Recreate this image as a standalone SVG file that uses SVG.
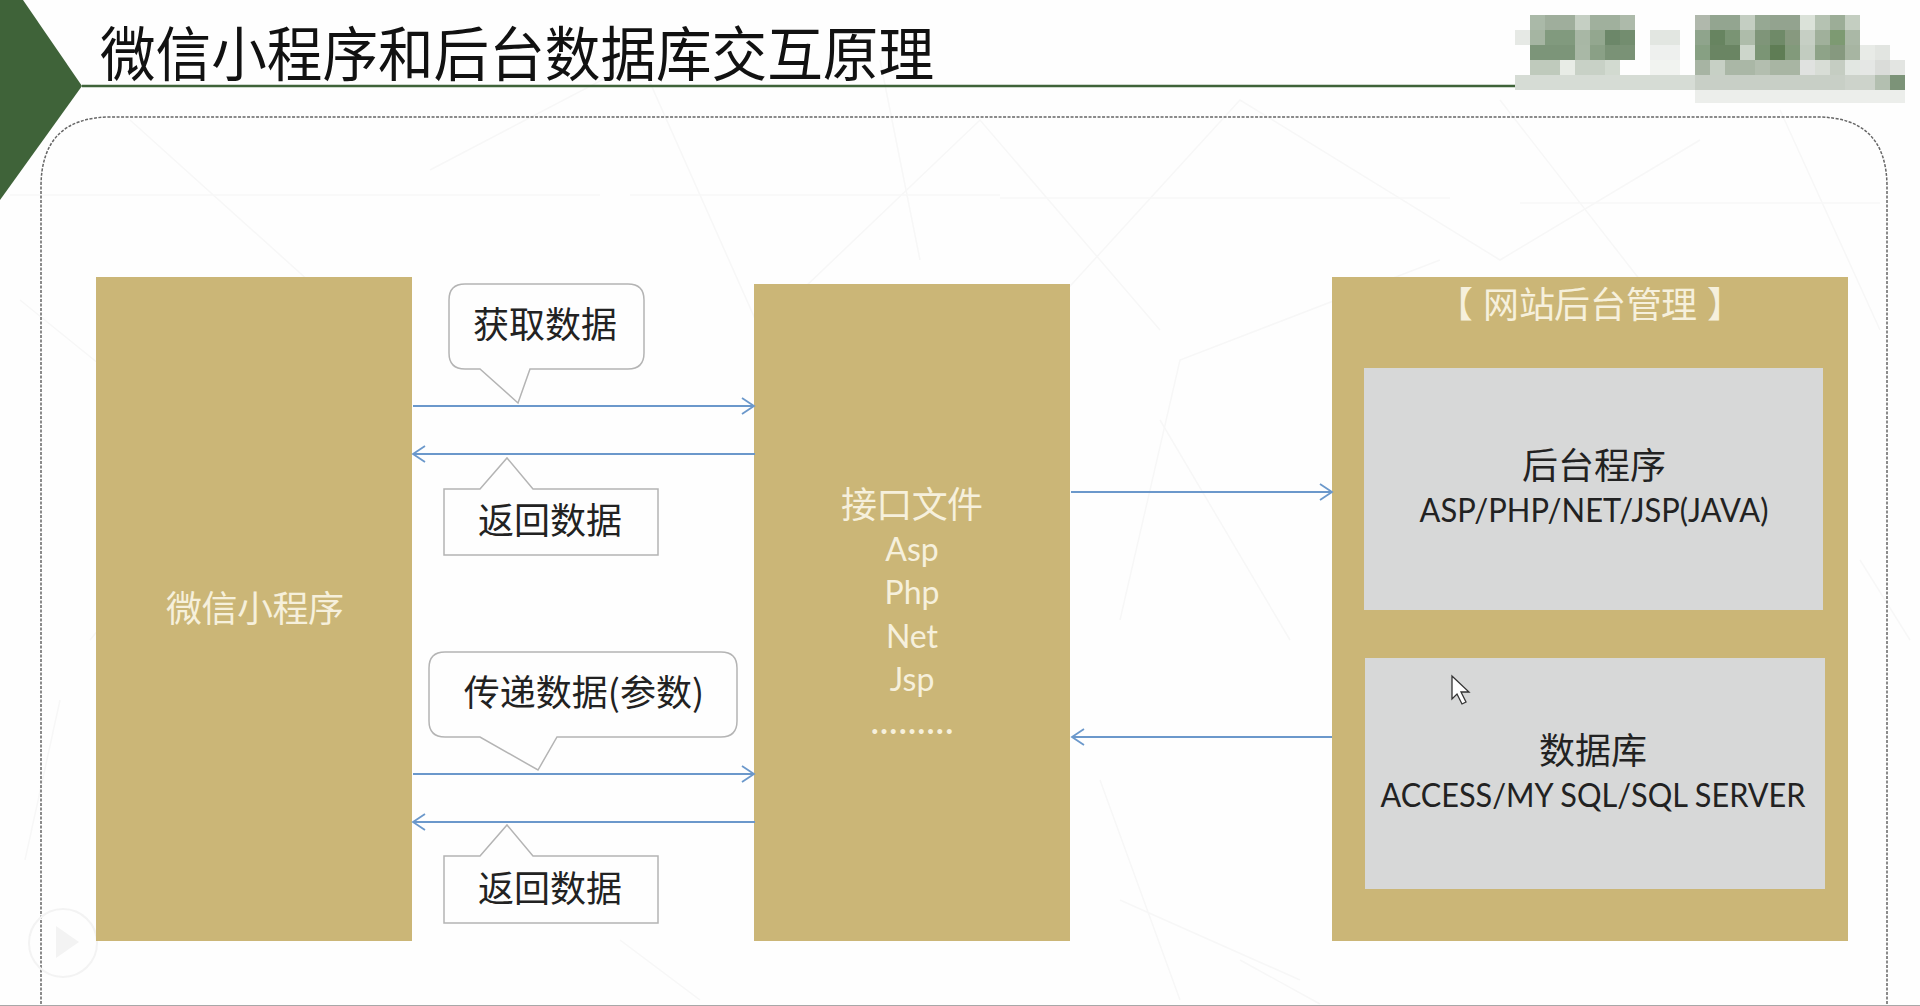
<svg xmlns="http://www.w3.org/2000/svg" width="1920" height="1006" viewBox="0 0 1920 1006">
<style>
text{font-family:"Noto Sans CJK SC","Noto Sans",sans-serif;text-anchor:middle;dominant-baseline:auto}
.tan{fill:#cbb677}
.gray{fill:#d7d8d8}
.w{fill:#f6f0dc;font-size:36px}
.k{fill:#222;font-size:36px}
.lat{font-family:Lato,"Noto Sans",sans-serif;font-size:32px}
.call{fill:#fefefe;stroke:#b4b4b4;stroke-width:1.5}
.conn{fill:none;stroke:#6b98cb;stroke-width:1.8}
.tex{fill:none;stroke:#f7f7f7;stroke-width:1.5}
</style>
<defs>
<marker id="arr" markerUnits="userSpaceOnUse" markerWidth="16" markerHeight="20" refX="13.500" refY="10" orient="auto-start-reverse">
<path d="M1.500 2L13.500 10L1.500 18" fill="none" stroke="#6b98cb" stroke-width="1.800"/>
</marker>
</defs>
<rect width="1920" height="1006" fill="#fefefe"/>
<g id="texture" class="tex">
<path d="M130 120L330 300L300 560M430 170L640 60L760 330L980 120L1160 330M1030 330L1240 100L1500 260L1700 140"/>
<path d="M10 195H600M630 195H1000M1000 198H1450M1520 203H1880M20 300L230 470L90 640"/>
<path d="M1440 260L1180 360L1120 620M1640 280L1500 100M1780 110L1880 330M880 60L920 260M620 940L700 1000M1100 780L1180 1000M1240 960L1320 1004"/>
<path d="M1860 560L1910 640M60 700L25 860M1160 420L1290 640M1120 900L1300 980"/>
</g>
<g id="header">
<polygon points="0,0 23,0 82,86 0,200" fill="#3f6339"/>
<line x1="82" y1="86" x2="1520" y2="86" stroke="#3f6339" stroke-width="2.500"/>
<text x="517" y="76" font-size="59" fill="#111" textLength="834" lengthAdjust="spacingAndGlyphs">微信小程序和后台数据库交互原理</text>
</g>
<g id="mosaic" shape-rendering="crispEdges">
<rect x="1530" y="15" width="15" height="15" fill="#aab9a8"/><rect x="1545" y="15" width="30" height="15" fill="#9fae9c"/><rect x="1575" y="15" width="15" height="15" fill="#c5cfc3"/><rect x="1590" y="15" width="30" height="15" fill="#a0b09d"/><rect x="1620" y="15" width="15" height="15" fill="#adbaaa"/>
<rect x="1695" y="15" width="15" height="15" fill="#b0b8ac"/><rect x="1710" y="15" width="30" height="15" fill="#93a590"/><rect x="1740" y="15" width="15" height="15" fill="#c4cec2"/><rect x="1755" y="15" width="15" height="15" fill="#96a893"/><rect x="1770" y="15" width="30" height="15" fill="#93a38f"/><rect x="1800" y="15" width="15" height="15" fill="#dbe2d9"/><rect x="1815" y="15" width="15" height="15" fill="#b5c2b2"/><rect x="1830" y="15" width="15" height="15" fill="#9cad97"/><rect x="1845" y="15" width="15" height="15" fill="#c4cec1"/>
<rect x="1515" y="30" width="15" height="15" fill="#e6e9e5"/><rect x="1530" y="30" width="15" height="15" fill="#a5b5a2"/><rect x="1545" y="30" width="30" height="15" fill="#819a7e"/><rect x="1575" y="30" width="15" height="15" fill="#a8b7a5"/><rect x="1590" y="30" width="15" height="15" fill="#93a78f"/><rect x="1605" y="30" width="15" height="15" fill="#6c8769"/><rect x="1620" y="30" width="15" height="15" fill="#738d6f"/><rect x="1650" y="30" width="30" height="15" fill="#e2e6e1"/>
<rect x="1695" y="30" width="15" height="15" fill="#8fa48c"/><rect x="1710" y="30" width="15" height="15" fill="#678460"/><rect x="1725" y="30" width="15" height="15" fill="#7a9474"/><rect x="1740" y="30" width="15" height="15" fill="#aebcaa"/><rect x="1755" y="30" width="15" height="15" fill="#7f9579"/><rect x="1770" y="30" width="15" height="15" fill="#6f8a68"/><rect x="1785" y="30" width="15" height="15" fill="#87997f"/><rect x="1800" y="30" width="15" height="15" fill="#c6cfc4"/><rect x="1815" y="30" width="15" height="15" fill="#a0b09b"/><rect x="1830" y="30" width="15" height="15" fill="#7d9a72"/><rect x="1845" y="30" width="15" height="15" fill="#aab8a6"/>
<rect x="1530" y="45" width="45" height="15" fill="#7c9579"/><rect x="1575" y="45" width="15" height="15" fill="#a9b8a6"/><rect x="1590" y="45" width="15" height="15" fill="#8aa086"/><rect x="1605" y="45" width="30" height="15" fill="#7a9276"/><rect x="1650" y="45" width="30" height="15" fill="#eef0ee"/>
<rect x="1695" y="45" width="15" height="15" fill="#87a083"/><rect x="1710" y="45" width="30" height="15" fill="#6a8563"/><rect x="1740" y="45" width="15" height="15" fill="#cdd6cb"/><rect x="1755" y="45" width="15" height="15" fill="#7b9575"/><rect x="1770" y="45" width="15" height="15" fill="#5f7d55"/><rect x="1785" y="45" width="15" height="15" fill="#829a7b"/><rect x="1800" y="45" width="15" height="15" fill="#c2ccc0"/><rect x="1815" y="45" width="15" height="15" fill="#8ea388"/><rect x="1830" y="45" width="15" height="15" fill="#86997f"/><rect x="1845" y="45" width="15" height="15" fill="#a7b5a2"/><rect x="1860" y="45" width="15" height="15" fill="#e8ebe7"/><rect x="1875" y="45" width="15" height="15" fill="#e2e5e1"/>
<rect x="1530" y="60" width="30" height="15" fill="#bfcabc"/><rect x="1560" y="60" width="15" height="15" fill="#e8ece6"/><rect x="1575" y="60" width="30" height="15" fill="#c8d1c6"/><rect x="1605" y="60" width="15" height="15" fill="#d2dad0"/><rect x="1650" y="60" width="30" height="15" fill="#f1f3f0"/>
<rect x="1695" y="60" width="15" height="15" fill="#a7b4a3"/><rect x="1710" y="60" width="15" height="15" fill="#c7d0c5"/><rect x="1725" y="60" width="30" height="15" fill="#aab7a6"/><rect x="1755" y="60" width="15" height="15" fill="#b3beaf"/><rect x="1770" y="60" width="30" height="15" fill="#a8b5a3"/><rect x="1800" y="60" width="15" height="15" fill="#e0e2e0"/><rect x="1815" y="60" width="15" height="15" fill="#d8ddd6"/><rect x="1830" y="60" width="15" height="15" fill="#c5cdc2"/><rect x="1845" y="60" width="15" height="15" fill="#e2e7e2"/><rect x="1860" y="60" width="15" height="15" fill="#e5e7e5"/><rect x="1875" y="60" width="15" height="15" fill="#dadcd9"/><rect x="1890" y="60" width="15" height="15" fill="#e3e5e2"/>
<rect x="1515" y="75" width="180" height="15" fill="#d6dcd5"/><rect x="1695" y="75" width="150" height="15" fill="#c8cfc6"/><rect x="1845" y="75" width="30" height="15" fill="#cdd3cb"/><rect x="1875" y="75" width="15" height="15" fill="#b3bfb0"/><rect x="1890" y="75" width="15" height="15" fill="#7c9378"/>
<rect x="1695" y="90" width="210" height="13" fill="#eceeeb"/>
</g>
<path id="frame" d="M41 1040V187Q41 117 111 117H1817Q1887 117 1887 187V1040" fill="none" stroke="#666" stroke-width="1.500" stroke-dasharray="3 1.500"/>
<rect id="bottom-edge" x="0" y="1005" width="1920" height="1" fill="#a8a8a8"/>
<g id="play">
<circle cx="63" cy="943" r="34" fill="none" stroke="#f3f3f3" stroke-width="2"/>
<polygon points="56,926 79,942 56,958" fill="#f3f3f3"/>
</g>
<g id="diagram" transform="translate(0 1)">
<g id="node-miniprogram">
<rect class="tan" x="96" y="276" width="316" height="664"/>
<text class="w" x="255" y="621" textLength="178" lengthAdjust="spacing">微信小程序</text>
</g>
<g id="node-interface">
<rect class="tan" x="754" y="283" width="316" height="657"/>
<text class="w" x="912" y="517" textLength="142" lengthAdjust="spacing">接口文件</text>
<text class="w lat" x="912" y="560">Asp</text>
<text class="w lat" x="912" y="603">Php</text>
<text class="w lat" x="912" y="647">Net</text>
<text class="w lat" x="912" y="690">Jsp</text>
<text class="w lat" x="912" y="733" textLength="82" lengthAdjust="spacing" font-weight="700">.........</text>
</g>
<g id="node-backend">
<rect class="tan" x="1332" y="276" width="516" height="664"/>
<text class="w" x="1455 1501 1537 1572 1608 1644 1679 1725" y="317">【网站后台管理】</text>
</g>
<g id="node-program">
<rect class="gray" x="1364" y="367" width="459" height="242"/>
<text class="k" x="1594" y="478">后台程序</text>
<text class="k lat" x="1594" y="521" textLength="349" lengthAdjust="spacingAndGlyphs">ASP/PHP/NET/JSP(JAVA)</text>
</g>
<g id="node-database">
<rect class="gray" x="1365" y="657" width="460" height="231"/>
<text class="k" x="1593" y="763">数据库</text>
<text class="k lat" x="1593" y="806" textLength="425" lengthAdjust="spacingAndGlyphs">ACCESS/MY SQL/SQL SERVER</text>
</g>
<g id="connectors">
<line class="conn" x1="413" y1="405" x2="754" y2="405" marker-end="url(#arr)"/>
<line class="conn" x1="755" y1="453" x2="413" y2="453" marker-end="url(#arr)"/>
<line class="conn" x1="413" y1="773" x2="754" y2="773" marker-end="url(#arr)"/>
<line class="conn" x1="755" y1="821" x2="413" y2="821" marker-end="url(#arr)"/>
<line class="conn" x1="1071" y1="491" x2="1332" y2="491" marker-end="url(#arr)"/>
<line class="conn" x1="1332" y1="736" x2="1072" y2="736" marker-end="url(#arr)"/>
</g>
<g id="callout-get">
<path class="call" d="M465 283H628Q644 283 644 299V352Q644 368 628 368H530L518 402L480 368H465Q449 368 449 352V299Q449 283 465 283Z"/>
<text class="k" x="545" y="337">获取数据</text>
</g>
<g id="callout-return-1">
<path class="call" d="M444 488H480L507 457L533 488H658V554H444Z"/>
<text class="k" x="550" y="533">返回数据</text>
</g>
<g id="callout-pass">
<path class="call" d="M445 651H721Q737 651 737 667V720Q737 736 721 736H557L538 769L480 736H445Q429 736 429 720V667Q429 651 445 651Z"/>
<text class="k" x="584" y="705">传递数据(参数)</text>
</g>
<g id="callout-return-2">
<path class="call" d="M444 855H480L507 824L533 855H658V922H444Z"/>
<text class="k" x="550" y="901">返回数据</text>
</g>
<polygon id="cursor" points="1452,675 1452,698 1457,693 1462,703 1466,701 1461,691 1469,691" fill="#fff" stroke="#333" stroke-width="1.300"/>
</g>
</svg>
